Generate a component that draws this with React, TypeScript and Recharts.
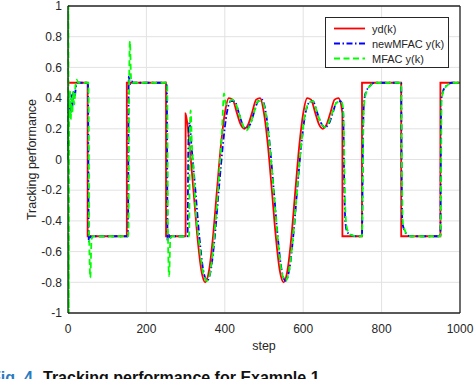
import { Line, LineChart, CartesianGrid, XAxis, YAxis } from "recharts";

// reference signal yd(k): [step, value]
const ydPoints: [number, number][] = [
  [0, 0.5], [50, 0.5], [50, -0.5], [150, -0.5], [150, 0.5], [250, 0.5], [250, -0.5], [300, -0.5],
  [300, 0.3], [310, 0.09], [320, -0.2], [330, -0.5], [340, -0.72], [350, -0.8], [360, -0.72],
  [370, -0.5], [380, -0.2], [390, 0.09], [400, 0.3], [410, 0.4], [420, 0.39], [430, 0.31],
  [440, 0.23], [450, 0.2], [460, 0.23], [470, 0.31], [480, 0.39], [490, 0.4], [500, 0.3],
  [510, 0.09], [520, -0.2], [530, -0.5], [540, -0.72], [550, -0.8], [560, -0.72], [570, -0.5],
  [580, -0.2], [590, 0.09], [600, 0.3], [610, 0.4], [620, 0.39], [630, 0.31], [640, 0.23],
  [650, 0.2], [660, 0.23], [670, 0.31], [680, 0.39], [690, 0.4], [700, 0.3],
  [700, -0.5], [750, -0.5], [750, 0.5], [850, 0.5], [850, -0.5], [950, -0.5], [950, 0.5], [1000, 0.5],
];

// newMFAC y(k)
const newMfacPoints: [number, number][] = [
  [0, 0], [1, 0.4], [3, 0.28], [5, 0.38], [7, 0.3], [9, 0.42], [11, 0.34], [14, 0.44], [17, 0.4],
  [20, 0.47], [24, 0.5], [51, 0.5], [53, -0.54], [56, -0.5], [60, -0.51], [64, -0.5],
  [153, -0.5], [155, 0.54], [158, 0.49], [162, 0.51], [166, 0.5], [252, 0.5], [254, -0.53],
  [257, -0.49], [261, -0.51], [265, -0.5], [305, -0.5], [307, 0.1], [310, 0.24], [315, 0.09],
  [325, -0.2], [335, -0.5], [345, -0.72], [355, -0.79], [365, -0.71], [375, -0.49], [385, -0.19],
  [395, 0.09], [405, 0.3], [415, 0.38], [425, 0.38], [435, 0.31], [445, 0.23], [455, 0.2],
  [465, 0.23], [475, 0.31], [485, 0.38], [495, 0.39], [505, 0.3], [515, 0.09], [525, -0.2],
  [535, -0.5], [545, -0.72], [555, -0.79], [565, -0.71], [575, -0.49], [585, -0.19], [595, 0.09],
  [605, 0.29], [615, 0.37], [625, 0.38], [635, 0.31], [645, 0.24], [655, 0.21], [665, 0.23],
  [675, 0.3], [685, 0.37], [695, 0.38], [700, 0.35], [702, 0.3], [705, -0.2], [708, -0.42],
  [712, -0.47], [720, -0.49], [735, -0.5], [750, -0.5], [752, 0], [754, 0.32], [757, 0.41],
  [762, 0.45], [770, 0.48], [782, 0.5], [850, 0.5], [851, 0], [853, -0.41], [858, -0.46],
  [865, -0.49], [874, -0.5], [950, -0.5], [951, 0], [952, 0.38], [956, 0.44], [962, 0.47],
  [970, 0.49], [980, 0.5], [1000, 0.5],
];

// MFAC y(k)
const mfacPoints: [number, number][] = [
  [0, 0], [1, 1], [2, -1], [3, 0.3], [5, 0.45], [7, 0.26], [9, 0.4], [11, 0.3], [13, 0.44],
  [16, 0.36], [19, 0.48], [22, 0.52], [26, 0.5], [52, 0.5], [54, -0.5], [57, -0.77], [60, -0.52],
  [64, -0.5], [154, -0.5], [156, 0.5], [158, 0.77], [161, 0.52], [165, 0.5], [253, 0.5],
  [255, -0.5], [258, -0.76], [261, -0.52], [265, -0.5], [309, -0.5], [311, 0.2], [313, 0.32],
  [316, 0.1], [320, -0.05], [325, -0.3], [335, -0.55], [345, -0.74], [355, -0.79], [365, -0.7],
  [375, -0.45], [385, -0.12], [393, 0.2], [398, 0.43], [403, 0.36], [410, 0.37], [418, 0.39],
  [425, 0.38], [435, 0.31], [445, 0.23], [455, 0.19], [465, 0.23], [475, 0.31], [485, 0.38],
  [495, 0.38], [505, 0.29], [515, 0.08], [525, -0.21], [535, -0.51], [545, -0.73], [555, -0.79],
  [565, -0.71], [575, -0.48], [585, -0.18], [595, 0.1], [605, 0.3], [615, 0.37], [625, 0.38],
  [635, 0.31], [645, 0.24], [655, 0.21], [665, 0.24], [675, 0.31], [685, 0.37], [695, 0.38],
  [700, 0.36], [703, 0.28], [706, -0.2], [709, -0.4], [713, -0.46], [721, -0.49], [737, -0.5],
  [750, -0.5], [752, -0.1], [754, 0.3], [758, 0.41], [763, 0.45], [771, 0.48], [783, 0.5],
  [850, 0.5], [852, -0.1], [854, -0.41], [859, -0.46], [866, -0.49], [875, -0.5], [950, -0.5],
  [952, 0], [953, 0.38], [957, 0.44], [963, 0.47], [971, 0.49], [981, 0.5], [1000, 0.5],
];

const xTicks = [0, 200, 400, 600, 800, 1000];
const yTicks = [-1, -0.8, -0.6, -0.4, -0.2, 0, 0.2, 0.4, 0.6, 0.8, 1];

const series = [
  { name: "yd(k)", points: ydPoints, color: "#ff0000", dash: undefined },
  { name: "newMFAC y(k)", points: newMfacPoints, color: "#0000ff", dash: "6 2.5 1.5 2.5" },
  { name: "MFAC y(k)", points: mfacPoints, color: "#00ff00", dash: "6 3.5" },
];

const FONT = '"Liberation Sans", Arial, Helvetica, sans-serif';
const INK = "#262626";
const tickStyle = { fill: INK, fontSize: 12, fontFamily: FONT };

const toRows = (pts: [number, number][]) => pts.map(([step, y]) => ({ step, y }));

function LegendBox() {
  return (
    <svg width={124} height={51} style={{ position: "absolute", left: 325, top: 17 }}>
      <rect x={0.5} y={0.5} width={123} height={50} fill="#fff" stroke={INK} strokeWidth={1} />
      {series.map((s, i) => (
        <g key={s.name}>
          <line
            x1={9}
            x2={40}
            y1={11.5 + i * 15}
            y2={11.5 + i * 15}
            stroke={s.color}
            strokeWidth={1.8}
            strokeDasharray={s.dash}
          />
          <text x={47} y={15.5 + i * 15} fontSize={11} fill={INK} fontFamily={FONT}>
            {s.name}
          </text>
        </g>
      ))}
    </svg>
  );
}

export default function App() {
  return (
    <div
      style={{
        position: "absolute",
        left: 0,
        top: 0,
        width: 474,
        height: 379,
        overflow: "hidden",
        background: "#fff",
        fontFamily: FONT,
      }}
    >
      <LineChart width={474} height={356} margin={{ top: 6, right: 14, bottom: 0, left: 0 }}>
        <CartesianGrid xAxisId="x" yAxisId="y" stroke="#e2e2e2" strokeWidth={1} />
        <XAxis
          xAxisId="x"
          dataKey="step"
          type="number"
          domain={[0, 1000]}
          ticks={xTicks}
          interval={0}
          height={43}
          tickLine={false}
          tickSize={0}
          tickMargin={11}
          axisLine={{ stroke: INK, strokeWidth: 1.3 }}
          tick={tickStyle}
          label={{ value: "step", position: "insideBottom", offset: 6, style: { fill: INK, fontSize: 12.5, fontFamily: FONT } }}
        />
        <XAxis xAxisId="xb" type="number" domain={[0, 1000]} ticks={xTicks} mirror tick={false} tickSize={5} axisLine={false} tickLine={{ stroke: INK }} />
        <XAxis xAxisId="xt" orientation="top" type="number" domain={[0, 1000]} ticks={xTicks} mirror tick={false} tickSize={5} axisLine={{ stroke: INK, strokeWidth: 1.3 }} tickLine={{ stroke: INK }} />
        <YAxis
          yAxisId="y"
          type="number"
          domain={[-1, 1]}
          ticks={yTicks}
          interval={0}
          width={68}
          tickLine={false}
          tickSize={0}
          tickMargin={6}
          axisLine={{ stroke: INK, strokeWidth: 1.3 }}
          tick={tickStyle}
          tickFormatter={(v: number) => String(v)}
          label={{ value: "Tracking performance", angle: -90, position: "center", dx: -2, style: { fill: INK, fontSize: 12.5, fontFamily: FONT } }}
        />
        <YAxis yAxisId="yl" type="number" domain={[-1, 1]} ticks={yTicks} mirror tick={false} tickSize={5} axisLine={false} tickLine={{ stroke: INK }} />
        <YAxis yAxisId="yr" orientation="right" type="number" domain={[-1, 1]} ticks={yTicks} mirror tick={false} tickSize={5} axisLine={{ stroke: INK, strokeWidth: 1.3 }} tickLine={{ stroke: INK }} />
        {series.map((s) => (
          <Line
            key={s.name}
            xAxisId="x"
            yAxisId="y"
            data={toRows(s.points)}
            dataKey="y"
            name={s.name}
            type="monotone"
            stroke={s.color}
            strokeWidth={1.8}
            strokeDasharray={s.dash}
            dot={false}
            isAnimationActive={false}
          />
        ))}
      </LineChart>
      <LegendBox />
      <div
        style={{
          position: "absolute",
          left: -9,
          top: 370,
          fontSize: 16,
          lineHeight: "16px",
          fontWeight: "bold",
          color: "#2a7bbf",
          whiteSpace: "nowrap",
        }}
      >
        Fig. 4
      </div>
      <div
        style={{
          position: "absolute",
          left: 43,
          top: 370,
          fontSize: 16,
          lineHeight: "16px",
          fontWeight: "bold",
          color: "#111",
          whiteSpace: "nowrap",
        }}
      >
        Tracking performance for Example 1
      </div>
    </div>
  );
}
